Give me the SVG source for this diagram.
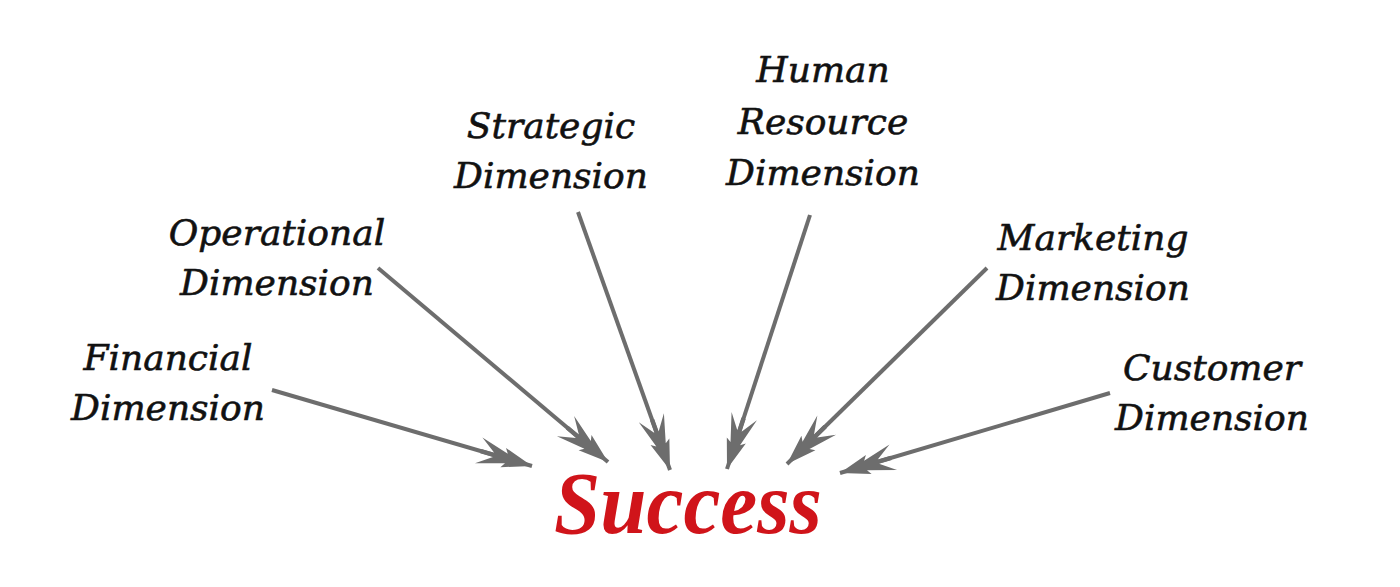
<svg xmlns="http://www.w3.org/2000/svg" width="1400" height="587" viewBox="0 0 1400 587">
<style>
.lbl{font-family:"DejaVu Serif","Liberation Serif",serif;font-style:italic;font-size:36px;fill:#111111;stroke:#111111;stroke-width:0.6;text-anchor:middle}
.ttl{font-family:"Liberation Serif",serif;font-style:italic;font-weight:bold;font-size:88px;fill:#d0141a;text-anchor:middle}
.arr{stroke:#6d6d6d;stroke-width:4;fill:none;marker-end:url(#head)}
</style>
<defs>
<marker id="head" markerUnits="userSpaceOnUse" markerWidth="60" markerHeight="30" refX="0" refY="0" viewBox="-52 -13 54 26" orient="auto">
<polygon points="0,0 -27,-9 -24,-4.5 -50,-12 -36,-2 -48,-2 -48,2 -36,2 -50,12 -24,4.5 -27,9" fill="#6d6d6d"/>
</marker>
</defs>
<rect width="1400" height="587" fill="#ffffff"/>
<g id="connectors">
<line class="arr" x1="272" y1="390" x2="532" y2="466"/>
<line class="arr" x1="378" y1="268" x2="608" y2="462"/>
<line class="arr" x1="578" y1="212" x2="670" y2="470"/>
<line class="arr" x1="810" y1="215" x2="727" y2="469"/>
<line class="arr" x1="987" y1="268" x2="787" y2="464"/>
<line class="arr" x1="1110" y1="393" x2="840" y2="473"/>
</g>
<g id="financial"><text class="lbl" x="168" y="370">Financial</text><text class="lbl" x="168" y="420">Dimension</text></g>
<g id="operational"><text class="lbl" x="277" y="245">Operational</text><text class="lbl" x="277" y="295">Dimension</text></g>
<g id="strategic"><text class="lbl" x="551" y="138">Strategic</text><text class="lbl" x="551" y="188">Dimension</text></g>
<g id="human"><text class="lbl" x="823" y="82">Human</text><text class="lbl" x="823" y="134">Resource</text><text class="lbl" x="823" y="185">Dimension</text></g>
<g id="marketing"><text class="lbl" x="1093" y="250">Marketing</text><text class="lbl" x="1093" y="300">Dimension</text></g>
<g id="customer"><text class="lbl" x="1212" y="380">Customer</text><text class="lbl" x="1212" y="430">Dimension</text></g>
<g id="success"><text class="ttl" x="688" y="533" textLength="268" lengthAdjust="spacingAndGlyphs">Success</text></g>
</svg>
